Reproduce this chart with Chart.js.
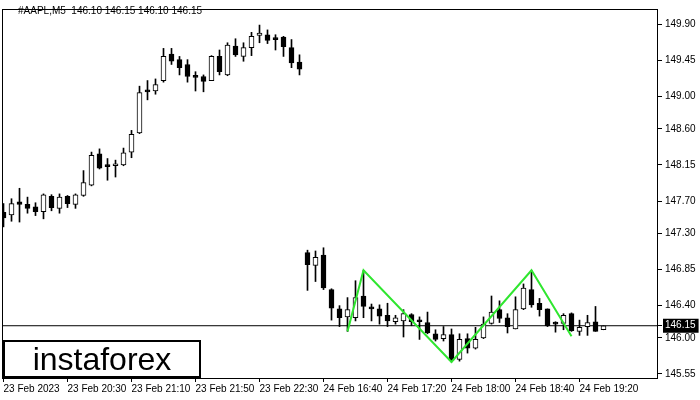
<!DOCTYPE html>
<html>
<head>
<meta charset="utf-8">
<script src="https://cdn.jsdelivr.net/npm/chart.js@4.4.0/dist/chart.umd.min.js"></script>
<style>
    html, body { margin: 0; padding: 0; background: #fff; }
    #wrap { width: 700px; height: 400px; }
</style>
</head>
<body>
<div id="wrap"><canvas id="chart" width="700" height="400"></canvas></div>
<script>
const symbolTitle = '#AAPL,M5  146.10 146.15 146.10 146.15';
const brandText = 'instaforex';

const timeLabels = ['23 Feb 2023', '23 Feb 20:30', '23 Feb 21:10', '23 Feb 21:50', '23 Feb 22:30',
    '24 Feb 16:40', '24 Feb 17:20', '24 Feb 18:00', '24 Feb 18:40', '24 Feb 19:20'];
const timeTickIndex = [0, 8, 16, 24, 32, 40, 48, 56, 64, 72];

const priceTicks = [145.55, 146.00, 146.40, 146.85, 147.30, 147.70, 148.15, 148.60, 149.00, 149.45, 149.90];
const lastPrice = 146.15;

// M5 bars, oldest first (23 Feb 19:50 .. 22:55, then 24 Feb 16:30 .. 19:35)
const opens = [
    147.56, 147.53, 147.69, 147.66, 147.63, 147.57, 147.76, 147.61, 147.76, 147.66,
    147.77, 147.90, 148.29, 148.15, 148.14, 148.15, 148.31, 148.55, 149.07, 149.07,
    149.20, 149.53, 149.46, 149.40, 149.25, 149.25, 149.20, 149.50, 149.27, 149.63,
    149.50, 149.61, 149.76, 149.77, 149.72, 149.74, 149.61, 149.43,
    147.06, 146.90, 147.03, 146.60, 146.36, 146.26, 146.25, 146.52, 146.37, 146.36,
    146.28, 146.20, 146.21, 146.29, 146.21, 146.19, 146.05, 145.99, 146.04, 145.73,
    145.99, 145.87, 146.00, 146.18, 146.35, 146.25, 146.11, 146.36, 146.60, 146.43,
    146.36, 146.19, 146.18, 146.30, 146.08, 146.14, 146.20, 146.10
];
const highs = [
    147.67, 147.73, 147.86, 147.75, 147.68, 147.79, 147.78, 147.79, 147.77, 147.79,
    148.08, 148.31, 148.35, 148.23, 148.21, 148.36, 148.58, 149.13, 149.20, 149.22,
    149.60, 149.60, 149.50, 149.46, 149.31, 149.27, 149.51, 149.58, 149.67, 149.72,
    149.67, 149.80, 149.89, 149.83, 149.77, 149.75, 149.71, 149.52,
    147.09, 147.08, 147.12, 146.61, 146.40, 146.50, 146.71, 146.84, 146.42, 146.41,
    146.43, 146.28, 146.35, 146.30, 146.26, 146.32, 146.10, 146.14, 146.11, 146.05,
    146.05, 146.13, 146.26, 146.52, 146.46, 146.30, 146.51, 146.67, 146.84, 146.49,
    146.36, 146.20, 146.30, 146.31, 146.22, 146.28, 146.39, 146.15
];
const lows = [
    147.38, 147.45, 147.44, 147.55, 147.52, 147.48, 147.58, 147.55, 147.62, 147.61,
    147.76, 147.89, 148.10, 147.96, 148.00, 148.14, 148.24, 148.54, 148.96, 149.03,
    149.18, 149.40, 149.27, 149.18, 149.07, 149.06, 149.20, 149.27, 149.26, 149.50,
    149.44, 149.51, 149.67, 149.66, 149.58, 149.50, 149.36, 149.27,
    146.59, 146.70, 146.60, 146.22, 146.14, 146.08, 146.21, 146.25, 146.21, 146.17,
    146.14, 146.17, 146.01, 146.15, 145.98, 146.05, 145.96, 145.96, 145.70, 145.71,
    145.81, 145.86, 145.99, 146.17, 146.19, 146.06, 146.11, 146.35, 146.38, 146.27,
    146.14, 146.07, 146.10, 146.08, 146.03, 146.03, 146.08, 146.10
];
const closes = [
    147.49, 147.67, 147.66, 147.61, 147.57, 147.78, 147.62, 147.75, 147.67, 147.78,
    147.93, 148.27, 148.11, 148.13, 148.15, 148.30, 148.53, 149.05, 149.06, 149.15,
    149.50, 149.44, 149.36, 149.25, 149.24, 149.19, 149.50, 149.31, 149.64, 149.52,
    149.61, 149.75, 149.79, 149.70, 149.71, 149.62, 149.42, 149.34,
    146.91, 147.00, 146.62, 146.37, 146.25, 146.35, 146.50, 146.39, 146.36, 146.27,
    146.21, 146.25, 146.30, 146.20, 146.20, 146.06, 145.98, 146.04, 145.72, 145.98,
    145.87, 145.98, 146.17, 146.32, 146.24, 146.14, 146.35, 146.62, 146.41, 146.35,
    146.15, 146.17, 146.28, 146.09, 146.13, 146.19, 146.08, 146.15
];

// triple bottom pattern outline
const patternIndex = [43, 45, 56, 66, 71];
const patternPrice = [146.08, 146.84, 145.70, 146.84, 146.02];

const xMin = -0.1875;
const xMax = 81.8125;

const bodies = opens.map((o, i) => ({ x: i, y: [o, closes[i]] }));
const wicks = lows.map((l, i) => ({ x: i, y: [l, highs[i]] }));
const bodyColors = opens.map((o, i) => closes[i] > o ? '#ffffff' : '#000000');
const pattern = patternIndex.map((x, i) => ({ x: x, y: patternPrice[i] }));

const chartDecor = {
    id: 'chartDecor',
    afterDraw(chart) {
        const { ctx, chartArea: a } = chart;
        ctx.save();
        // frame
        ctx.strokeStyle = '#000';
        ctx.lineWidth = 1;
        ctx.strokeRect(a.left + 0.5, a.top + 0.5, a.right - a.left - 1, a.bottom - a.top);
        // symbol line
        ctx.fillStyle = '#000';
        ctx.font = '10px "Liberation Sans", Arial, sans-serif';
        ctx.textBaseline = 'middle';
        ctx.textAlign = 'left';
        ctx.fillText(symbolTitle, 18, 11);
        // brand box
        ctx.fillStyle = '#fff';
        ctx.fillRect(4, 341, 196, 36);
        ctx.lineWidth = 2;
        ctx.strokeRect(4, 341, 196, 36);
        ctx.fillStyle = '#000';
        ctx.font = '32px "Liberation Sans", Arial, sans-serif';
        ctx.textAlign = 'center';
        ctx.textBaseline = 'alphabetic';
        ctx.fillText(brandText, 102, 370);
        ctx.restore();
    }
};

new Chart(document.getElementById('chart').getContext('2d'), {
    type: 'bar',
    data: {
        datasets: [
            {
                type: 'line',
                data: pattern,
                borderColor: '#2fe62f',
                borderWidth: 2,
                pointRadius: 0,
                fill: false,
                tension: 0,
                order: 0
            },
            {
                data: bodies,
                backgroundColor: bodyColors,
                borderColor: '#000',
                borderWidth: 1,
                borderSkipped: false,
                barThickness: 5,
                minBarLength: 2,
                grouped: false,
                order: 1
            },
            {
                data: wicks,
                backgroundColor: '#000',
                borderWidth: 0,
                barThickness: 1,
                grouped: false,
                order: 2
            },
            {
                type: 'line',
                data: [{ x: xMin, y: lastPrice }, { x: xMax, y: lastPrice }],
                borderColor: '#000',
                borderWidth: 1,
                pointRadius: 0,
                fill: false,
                order: 3
            }
        ]
    },
    options: {
        responsive: false,
        animation: false,
        devicePixelRatio: 1,
        layout: { padding: { left: 2, top: 4, right: 0, bottom: 0 } },
        plugins: {
            legend: { display: false },
            tooltip: { enabled: false }
        },
        scales: {
            x: {
                type: 'linear',
                offset: false,
                min: xMin,
                max: xMax,
                afterBuildTicks: (scale) => {
                    scale.ticks = timeTickIndex.map(v => ({ value: v }));
                },
                afterFit: (scale) => { scale.height = 22; },
                border: { display: false },
                grid: { offset: false, drawOnChartArea: false, drawTicks: true, tickLength: 4, color: '#000' },
                ticks: {
                    autoSkip: false,
                    maxRotation: 0,
                    align: 'start',
                    padding: 1,
                    color: '#000',
                    font: { family: '"Liberation Sans", Arial, sans-serif', size: 10 },
                    callback: (v) => timeLabels[timeTickIndex.indexOf(v)]
                }
            },
            y: {
                position: 'right',
                min: 145.50,
                max: 150.09,
                afterBuildTicks: (scale) => {
                    scale.ticks = [...priceTicks, lastPrice].sort((a, b) => a - b).map(v => ({ value: v }));
                },
                afterFit: (scale) => { scale.width = 42; },
                border: { display: false },
                grid: { drawOnChartArea: false, drawTicks: true, tickLength: 4, color: '#000' },
                ticks: {
                    autoSkip: false,
                    padding: 3,
                    color: (c) => c.tick && c.tick.value === lastPrice ? '#fff' : '#000',
                    showLabelBackdrop: (c) => !!(c.tick && c.tick.value === lastPrice),
                    backdropColor: '#000',
                    backdropPadding: { top: 1, bottom: 1, left: 2, right: 3 },
                    font: { family: '"Liberation Sans", Arial, sans-serif', size: 10 },
                    callback: (v) => v.toFixed(2)
                }
            }
        }
    },
    plugins: [chartDecor]
});
</script>
</body>
</html>
